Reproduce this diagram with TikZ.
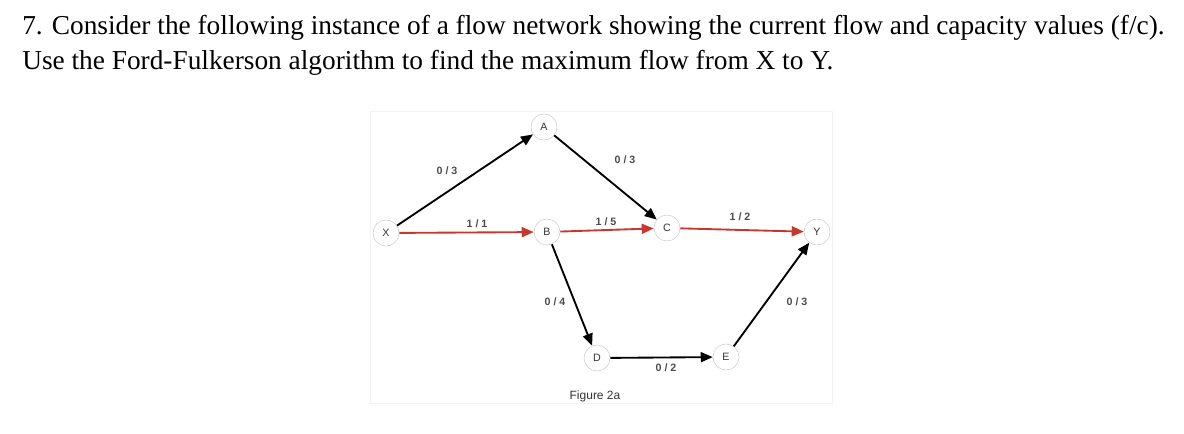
\documentclass[tikz,border=0pt]{standalone}
\usepackage{fontspec}
\setmainfont{Liberation Serif}
\newfontfamily\lab{Liberation Sans}
\usetikzlibrary{arrows.meta}
\begin{document}
\begin{tikzpicture}[x=0.75pt,y=-0.75pt,
  vtx/.style={circle,draw=gray!40,fill=white,minimum size=19.5pt,inner sep=0pt,font=\lab\fontsize{8}{9}\selectfont,text=black!80},
  edg/.style={line width=1.4pt,-{Triangle[length=9pt,width=7.5pt]}},
  redge/.style={edg,draw={rgb,255:red,200;green,55;blue,45},color={rgb,255:red,200;green,55;blue,45}},
  lbl/.style={font=\lab\bfseries\fontsize{8}{10}\selectfont,text=black!70}]
\useasboundingbox (0,0) rectangle (1184,434);
\node[anchor=base west,font=\fontsize{20.5}{24}\selectfont,inner sep=0pt] (t1) at (22,35) {7. Consider the following instance of a flow network showing the current flow and capacity values (f/c).};
\node[anchor=base west,font=\fontsize{20.5}{24}\selectfont,inner sep=0pt] (t2) at (22,70) {Use the Ford-Fulkerson algorithm to find the maximum flow from X to Y.};
\draw[gray!10] (370,111) rectangle (832,403);
\node[vtx] (X) at (386,233) {X};
\node[vtx] (A) at (544,127) {A};
\node[vtx] (B) at (547,232) {B};
\node[vtx] (C) at (667,228) {C};
\node[vtx] (Y) at (817,232) {Y};
\node[vtx] (D) at (597,358) {D};
\node[vtx] (E) at (726,357) {E};
\draw[edg] (X) -- (A);
\draw[edg] (A) -- (C);
\draw[redge] (X) -- (B);
\draw[redge] (B) -- (C);
\draw[redge] (C) -- (Y);
\draw[edg] (B) -- (D);
\draw[edg] (D) -- (E);
\draw[edg] (E) -- (Y);
\node[lbl] (l1) at (447,171) {0 / 3};
\node[lbl] (l2) at (625,160) {0 / 3};
\node[lbl] (l3) at (477,224) {1 / 1};
\node[lbl] (l4) at (606,222) {1 / 5};
\node[lbl] (l5) at (740,217) {1 / 2};
\node[lbl] (l6) at (555,302) {0 / 4};
\node[lbl] (l7) at (797,302) {0 / 3};
\node[lbl] (l8) at (666,368) {0 / 2};
\node[font=\lab\fontsize{9}{11}\selectfont,text=black!80] (cap) at (595,396) {Figure 2a};
\end{tikzpicture}
\end{document}
